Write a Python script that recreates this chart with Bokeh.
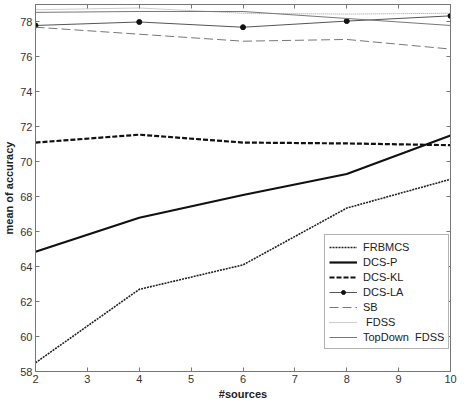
from bokeh.embed import file_html
from bokeh.resources import INLINE
from bokeh.models import (Legend, LegendItem, LinearAxis, FixedTicker,
                          CustomLabelingPolicy)
from bokeh.plotting import figure

# values
sources = [2, 4, 6, 8, 10]
frbmcs = [58.5, 62.7, 64.1, 67.35, 69.0]
dcs_p = [64.85, 66.8, 68.1, 69.3, 71.5]
dcs_kl = [71.1, 71.55, 71.1, 71.05, 70.95]
dcs_la = [77.8, 78.0, 77.7, 78.05, 78.35]
sb = [77.7, 77.3, 76.9, 77.0, 76.45]
fdss = [78.7, 78.8, 78.5, 78.45, 78.5]
topdown_fdss = [78.55, 78.6, 78.6, 78.2, 77.8]

x_ticks = [2, 3, 4, 5, 6, 7, 8, 9, 10]
y_ticks = [58, 60, 62, 64, 66, 68, 70, 72, 74, 76, 78]

FONT = "Liberation Sans"
AXIS_COLOR = "#777777"

p = figure(width=458, height=402, x_range=(2, 10), y_range=(58, 79),
           output_backend="svg", toolbar_location=None,
           min_border_left=22, min_border_right=8, min_border_top=0,
           min_border_bottom=0)
p.grid.visible = False
p.outline_line_color = AXIS_COLOR
p.background_fill_color = "white"

for ax in (p.xaxis[0], p.yaxis[0]):
    ax.major_tick_in = 4
    ax.major_tick_out = 0
    ax.minor_tick_line_color = None
    ax.axis_line_color = AXIS_COLOR
    ax.major_tick_line_color = AXIS_COLOR
    ax.major_label_text_font = FONT
    ax.major_label_text_font_size = "11px"
    ax.major_label_text_color = "#333333"
    ax.axis_label_text_font = FONT
    ax.axis_label_text_font_size = "11px"
    ax.axis_label_text_font_style = "bold"
    ax.axis_label_text_color = "#222222"
    ax.major_label_standoff = 3
    ax.axis_label_standoff = 2

p.xaxis.ticker = FixedTicker(ticks=x_ticks)
p.yaxis.ticker = FixedTicker(ticks=y_ticks)
p.xaxis.axis_label = "#sources"
p.yaxis.axis_label = "mean of accuracy"

# MATLAB style box: inward ticks on top and right too, without labels
def box_axis(ticks):
    return LinearAxis(ticker=FixedTicker(ticks=ticks), major_tick_in=4, major_tick_out=0,
                      minor_tick_line_color=None, major_label_text_font_size="1px",
                      major_label_standoff=0, axis_line_color=AXIS_COLOR,
                      major_tick_line_color=AXIS_COLOR,
                      major_label_policy=CustomLabelingPolicy(code="if (false) yield 0"))

p.add_layout(box_axis(x_ticks), "above")
p.add_layout(box_axis(y_ticks), "right")

r_frbmcs = p.line(sources, frbmcs, line_color="#222222", line_width=1.6, line_dash="2 1")
r_dcs_p = p.line(sources, dcs_p, line_color="#111111", line_width=2.2)
r_dcs_kl = p.line(sources, dcs_kl, line_color="#111111", line_width=2.2, line_dash="5 2")
r_dcs_la = p.line(sources, dcs_la, line_color="#555555", line_width=1)
r_dcs_la_pts = p.scatter(sources, dcs_la, size=5, fill_color="#111111", line_color="#111111")
r_sb = p.line(sources, sb, line_color="#777777", line_width=1, line_dash="9 4")
r_fdss = p.line(sources, fdss, line_color="#999999", line_width=1, line_dash="1 1")
r_topdown = p.line(sources, topdown_fdss, line_color="#777777", line_width=1)

legend = Legend(items=[
    LegendItem(label="FRBMCS", renderers=[r_frbmcs]),
    LegendItem(label="DCS-P", renderers=[r_dcs_p]),
    LegendItem(label="DCS-KL", renderers=[r_dcs_kl]),
    LegendItem(label="DCS-LA", renderers=[r_dcs_la, r_dcs_la_pts]),
    LegendItem(label="SB", renderers=[r_sb]),
    LegendItem(label=" FDSS", renderers=[r_fdss]),
    LegendItem(label="TopDown  FDSS", renderers=[r_topdown]),
], location=(289, 22))
legend.label_text_font = FONT
legend.label_text_font_size = "11px"
legend.label_text_color = "#222222"
legend.label_height = 15
legend.glyph_height = 10
legend.glyph_width = 28
legend.label_standoff = 6
legend.spacing = 0
legend.padding = 4
legend.margin = 0
legend.border_line_color = "#666666"
legend.background_fill_alpha = 1
p.add_layout(legend, "center")

open("out.html", "w").write(file_html(p, INLINE))
